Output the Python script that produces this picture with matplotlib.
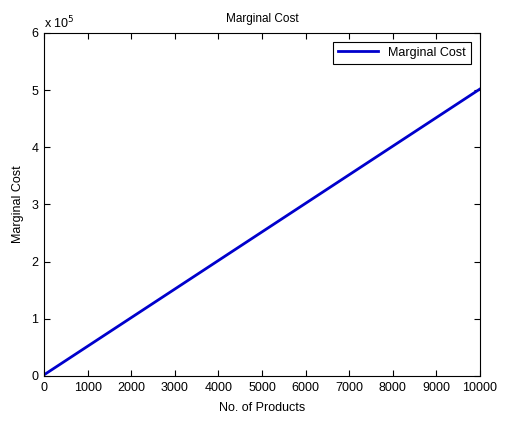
import matplotlib
matplotlib.use("Agg")
import matplotlib.pyplot as plt

# datos
products = [0, 2000, 4000, 6000, 8000, 10000]
marginal_cost = [2000, 102000, 202000, 302000, 402000, 502000]

plt.rcParams['font.family'] = ['Liberation Sans', 'DejaVu Sans']
plt.rcParams['font.size'] = 9

fig = plt.figure(figsize=(5.15, 4.28), dpi=100)
ax = fig.add_axes([0.0854, 0.1215, 0.8466, 0.8015])

ax.plot(products, marginal_cost, color='#0000cc', linewidth=2, label='Marginal Cost')
ax.set_xlim(0, 10000)
ax.set_ylim(0, 600000)
ax.set_xticks(range(0, 10001, 1000))
ax.set_yticks(range(0, 600001, 100000))
ax.set_yticklabels([str(i) for i in range(7)])
ax.tick_params(direction='in', top=True, right=True, length=4, width=0.8, pad=4)
for s in ax.spines.values():
    s.set_linewidth(0.8)

ax.text(0, 1.005, r'x 10$^5$', transform=ax.transAxes, ha='left', va='bottom', fontsize=9)
ax.set_title('Marginal Cost', fontsize=8.5, pad=8)
ax.set_xlabel('No. of Products', labelpad=6)
ax.set_ylabel('Marginal Cost', labelpad=5)

leg = ax.legend(loc='upper right', fancybox=False, framealpha=1, edgecolor='black',
                handlelength=3.2, borderaxespad=0.7)
leg.get_frame().set_linewidth(0.8)

fig.savefig('out.png', dpi=100)
